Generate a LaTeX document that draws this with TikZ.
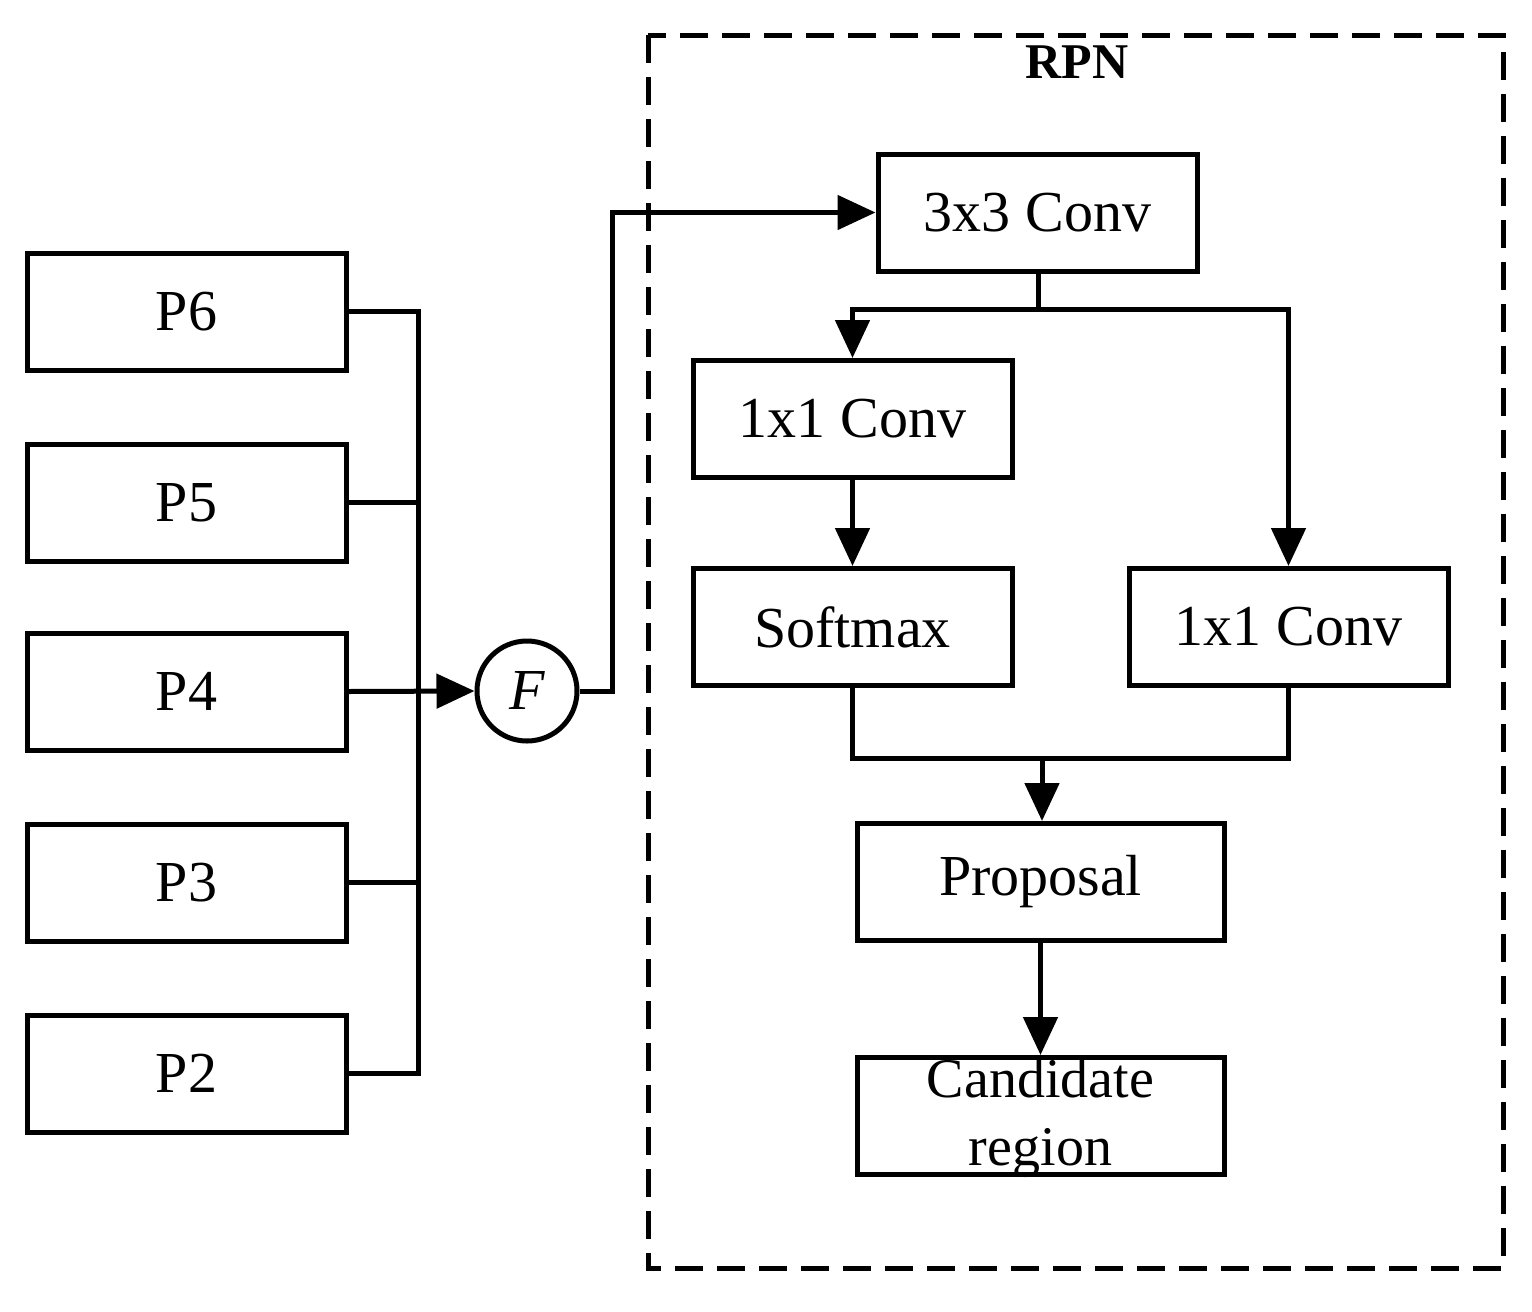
\documentclass[tikz,border=0pt]{standalone}
\usepackage{fontspec}
\setmainfont{Liberation Serif}
\usetikzlibrary{arrows.meta}
\begin{document}
\begin{tikzpicture}[x=1pt,y=-1pt,line width=5pt,
 box/.style={draw,rectangle,minimum width=319pt,minimum height=117pt,font=\fontsize{58}{58}\selectfont,inner sep=0pt},
 box2/.style={box,minimum width=367pt},
 arr/.style={-{Triangle[length=38pt,width=34pt]}}]
\useasboundingbox (0,0) rectangle (1532,1312);
\node[box] (p6) at (186.5,311.5) {P6};
\node[box] (p5) at (186.5,502.5) {P5};
\node[box] (p4) at (186.5,691.5) {P4};
\node[box] (p3) at (186.5,882.5) {P3};
\node[box] (p2) at (186.5,1073.5) {P2};
\node[draw,circle,minimum size=100pt,inner sep=0pt,font=\fontsize{58}{58}\selectfont\itshape] (f) at (527,691) {F};
\coordinate (bt) at (418,311.5);
\coordinate (bb) at (418,1073.5);
\draw (p6.east) -- (bt) -- (bb) -- (p2.east);
\draw (p5.east) -- (418,502.5);
\draw (p3.east) -- (418,882.5);
\draw[arr] (p4.east) -- (f.west);
\draw[dash pattern=on 28pt off 14pt] (648,35) rectangle (1503,1268);
\node[font=\fontsize{50}{50}\selectfont\bfseries] (rpn) at (1077,62) {RPN};
\node[box] (c3) at (1037.5,212.5) {3x3 Conv};
\node[box] (c1a) at (852.5,419) {1x1 Conv};
\node[box] (sm) at (852.5,627) {Softmax};
\node[box] (c1b) at (1288.5,627) {1x1 Conv};
\node[box2] (pr) at (1040.5,882) {Proposal};
\node[box2] (cd) at (1040.5,1116) {};
\node[align=center,font=\fontsize{56}{68}\selectfont,inner sep=0pt] (cdt) at (1040.5,1118) {Candidate\\region};
\draw[arr] (f.east) -- (612,691) |- (c3.west);
\coordinate (j) at (1038,309);
\draw (c3.south -| j) -- (j);
\draw[arr] (j) -| (c1a.north);
\draw[arr] (j) -| (c1b.north);
\draw[arr] (c1a) -- (sm);
\coordinate (m) at (1042,758);
\draw (sm.south) |- (m) -| (c1b.south);
\draw[arr] (m) -- (pr.north -| m);
\draw[arr] (pr) -- (cd);
\end{tikzpicture}
\end{document}
